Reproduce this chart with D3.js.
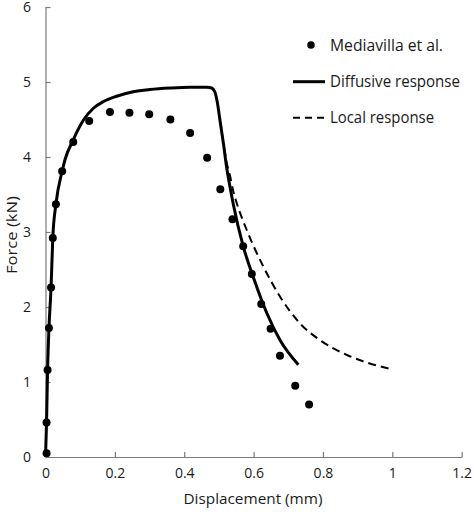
<!DOCTYPE html>
<html>
<head>
<meta charset="utf-8">
<script src="https://cdn.jsdelivr.net/npm/d3@7"></script>
<style>
  html, body { margin: 0; padding: 0; background: #fff; }
  svg { display: block; }
  text { font-family: "Open Sans", "DejaVu Sans", sans-serif; fill: #1a1a1a; }
</style>
</head>
<body>
<svg id="chart" width="474" height="512"></svg>
<script>
// ---- data ----
const xTicks = [0, 0.2, 0.4, 0.6, 0.8, 1, 1.2];
const xTickLabels = ["0", "0.2", "0.4", "0.6", "0.8", "1", "1.2"];
const yTicks = [0, 1, 2, 3, 4, 5, 6];
const yTickLabels = ["0", "1", "2", "3", "4", "5", "6"];

const seriesNames = ["Mediavilla et al.", "Diffusive response", "Local response"];

// Mediavilla et al. (experimental points)
const expX = [0.003, 0.003, 0.006, 0.010, 0.016, 0.021, 0.030, 0.048, 0.080, 0.126, 0.186, 0.242, 0.299, 0.360, 0.417, 0.466, 0.504, 0.539, 0.570, 0.595, 0.622, 0.649, 0.676, 0.720, 0.760];
const expY = [0.05, 0.46, 1.16, 1.72, 2.26, 2.92, 3.37, 3.81, 4.20, 4.48, 4.60, 4.59, 4.57, 4.50, 4.32, 3.99, 3.57, 3.17, 2.81, 2.44, 2.04, 1.71, 1.35, 0.95, 0.70];

// Diffusive response
const diffX = [0, 0.003, 0.006, 0.010, 0.016, 0.021, 0.030, 0.048, 0.056, 0.080, 0.109, 0.138, 0.167, 0.205, 0.253, 0.301, 0.360, 0.417, 0.465, 0.479, 0.488, 0.495, 0.503, 0.513, 0.522, 0.532, 0.541, 0.570, 0.599, 0.638, 0.676, 0.729];
const diffY = [0, 0.46, 1.16, 1.72, 2.26, 2.92, 3.37, 3.81, 3.96, 4.23, 4.49, 4.65, 4.74, 4.81, 4.87, 4.90, 4.92, 4.93, 4.93, 4.92, 4.87, 4.74, 4.49, 4.18, 3.87, 3.60, 3.38, 2.81, 2.40, 1.92, 1.56, 1.23];

// Local response
const locX = [0.515, 0.522, 0.532, 0.541, 0.549, 0.580, 0.628, 0.676, 0.734, 0.791, 0.869, 0.926, 0.998];
const locY = [4.12, 3.93, 3.75, 3.55, 3.42, 3.03, 2.54, 2.14, 1.78, 1.56, 1.36, 1.26, 1.17];

// ---- drawing ----
const svg = d3.select("#chart");
const x = d3.scaleLinear().domain([0, 1.2]).range([45.5, 461.7]);
const y = d3.scaleLinear().domain([0, 6]).range([457, 7]);

const axisColor = "#7a7a7a";

const xAxis = d3.axisBottom(x).tickValues(xTicks)
  .tickFormat((d, i) => xTickLabels[i]).tickSizeInner(-5).tickSizeOuter(0).tickPadding(11);
const gx = svg.append("g").attr("transform", `translate(0,${y(0)})`).call(xAxis);

const yAxis = d3.axisLeft(y).tickValues(yTicks)
  .tickFormat((d, i) => yTickLabels[i]).tickSizeInner(-5).tickSizeOuter(0).tickPadding(14.5);
const gy = svg.append("g").attr("transform", `translate(${x(0)},0)`).call(yAxis);

[gx, gy].forEach(g => {
  g.select(".domain").attr("stroke", axisColor).attr("stroke-width", 1.2);
  g.selectAll(".tick line").attr("stroke", axisColor).attr("stroke-width", 1.2);
  g.selectAll(".tick text").attr("font-size", 14).attr("fill", "#1a1a1a")
    .attr("font-family", "'Open Sans', sans-serif");
});

// axis titles
svg.append("text").attr("x", 253).attr("y", 504).attr("text-anchor", "middle")
  .attr("font-size", 15).attr("textLength", 139).attr("lengthAdjust", "spacingAndGlyphs")
  .text("Displacement (mm)");
svg.append("text").attr("transform", "translate(17,235) rotate(-90)").attr("text-anchor", "middle")
  .attr("font-size", 15).attr("textLength", 78).attr("lengthAdjust", "spacingAndGlyphs")
  .text("Force (kN)");

// lines
const line = d3.line().x(d => x(d[0])).y(d => y(d[1])).curve(d3.curveMonotoneX);
const diffData = diffX.map((v, i) => [v, diffY[i]]);
const locData = locX.map((v, i) => [v, locY[i]]);
const expData = expX.map((v, i) => [v, expY[i]]);

svg.append("path").datum(locData).attr("d", line).attr("fill", "none")
  .attr("stroke", "#000").attr("stroke-width", 2).attr("stroke-dasharray", "8,5");
svg.append("path").datum(diffData).attr("d", line).attr("fill", "none")
  .attr("stroke", "#000").attr("stroke-width", 3).attr("stroke-linejoin", "round");

svg.append("g").selectAll("circle").data(expData).join("circle")
  .attr("cx", d => x(d[0])).attr("cy", d => y(d[1])).attr("r", 4).attr("fill", "#000");

// legend
const lg = svg.append("g");
lg.append("circle").attr("cx", 311).attr("cy", 45).attr("r", 3.8).attr("fill", "#000");
lg.append("line").attr("x1", 293).attr("x2", 325).attr("y1", 81.7).attr("y2", 81.7)
  .attr("stroke", "#000").attr("stroke-width", 3);
lg.append("line").attr("x1", 293).attr("x2", 325).attr("y1", 117.7).attr("y2", 117.7)
  .attr("stroke", "#000").attr("stroke-width", 2).attr("stroke-dasharray", "7,5");
const legendLens = [113, 130, 104];
const legendY = [45, 81.7, 117.7];
seriesNames.forEach((n, i) => {
  lg.append("text").attr("x", 330).attr("y", legendY[i]).attr("dy", "0.36em")
    .attr("font-size", 16).attr("textLength", legendLens[i]).attr("lengthAdjust", "spacingAndGlyphs")
    .text(n);
});
</script>
</body>
</html>
